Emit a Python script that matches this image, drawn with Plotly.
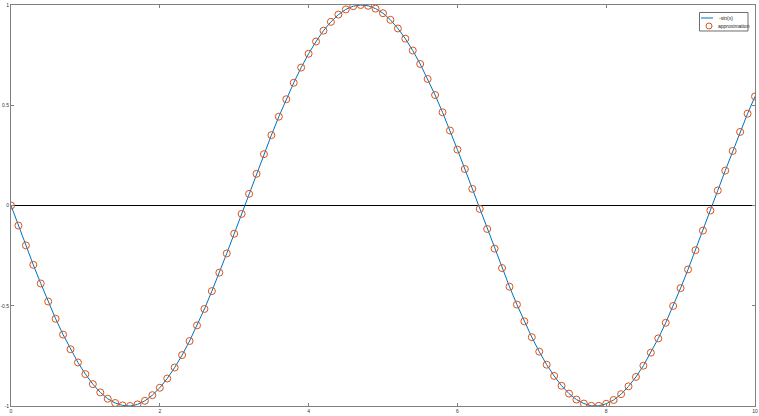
import plotly.graph_objects as go

# sample points, 0 to 10 in steps of 0.1
x_values = [
    0.0, 0.1, 0.2, 0.3, 0.4, 0.5, 0.6, 0.7, 0.8, 0.9,
    1.0, 1.1, 1.2, 1.3, 1.4, 1.5, 1.6, 1.7, 1.8, 1.9,
    2.0, 2.1, 2.2, 2.3, 2.4, 2.5, 2.6, 2.7, 2.8, 2.9,
    3.0, 3.1, 3.2, 3.3, 3.4, 3.5, 3.6, 3.7, 3.8, 3.9,
    4.0, 4.1, 4.2, 4.3, 4.4, 4.5, 4.6, 4.7, 4.8, 4.9,
    5.0, 5.1, 5.2, 5.3, 5.4, 5.5, 5.6, 5.7, 5.8, 5.9,
    6.0, 6.1, 6.2, 6.3, 6.4, 6.5, 6.6, 6.7, 6.8, 6.9,
    7.0, 7.1, 7.2, 7.3, 7.4, 7.5, 7.6, 7.7, 7.8, 7.9,
    8.0, 8.1, 8.2, 8.3, 8.4, 8.5, 8.6, 8.7, 8.8, 8.9,
    9.0, 9.1, 9.2, 9.3, 9.4, 9.5, 9.6, 9.7, 9.8, 9.9,
    10.0,
]

# -sin(x)
exact_values = [
    0.000, -0.100, -0.199, -0.296, -0.389, -0.479, -0.565, -0.644, -0.717, -0.783,
    -0.841, -0.891, -0.932, -0.964, -0.985, -0.997, -1.000, -0.992, -0.974, -0.946,
    -0.909, -0.863, -0.808, -0.746, -0.676, -0.598, -0.516, -0.427, -0.335, -0.239,
    -0.141, -0.042, 0.058, 0.158, 0.256, 0.351, 0.443, 0.530, 0.612, 0.688,
    0.757, 0.818, 0.872, 0.916, 0.952, 0.978, 0.994, 1.000, 0.996, 0.982,
    0.959, 0.926, 0.883, 0.832, 0.773, 0.706, 0.631, 0.551, 0.465, 0.374,
    0.279, 0.182, 0.083, -0.017, -0.117, -0.215, -0.312, -0.405, -0.494, -0.578,
    -0.657, -0.729, -0.794, -0.850, -0.899, -0.938, -0.968, -0.988, -0.999, -0.999,
    -0.989, -0.970, -0.941, -0.902, -0.855, -0.799, -0.734, -0.663, -0.585, -0.501,
    -0.412, -0.319, -0.223, -0.125, -0.025, 0.075, 0.174, 0.272, 0.367, 0.458,
    0.544,
]

# approximation markers sit on the same points
approx_values = list(exact_values)

x_ticks = [0, 2, 4, 6, 8, 10]
y_ticks = [-1, -0.5, 0, 0.5, 1]
y_tick_labels = ["-1", "-0.5", "0", "0.5", "1"]
legend_names = ["-sin(x)", "approximation"]

LINE_COLOR = '#0072BD'
MARKER_COLOR = '#D95319'
FONT = 'Liberation Sans'

fig = go.Figure()

fig.add_trace(go.Scatter(
    x=x_values, y=exact_values, mode='lines', name=legend_names[0],
    line=dict(color=LINE_COLOR, width=1)
))
fig.add_trace(go.Scatter(
    x=x_values, y=approx_values, mode='markers', name=legend_names[1],
    marker=dict(symbol='circle-open', size=7, color=MARKER_COLOR, line=dict(width=1))
))

axis_style = dict(
    showline=True, linecolor='#808080', linewidth=1, mirror='ticks',
    ticks='inside', ticklen=3, tickcolor='#808080', automargin=False,
    showgrid=False, tickfont=dict(family=FONT, size=5, color='#333333'),
)

# plotly's own legend can't get this compact, so draw a small one by hand
legend_shapes = [
    dict(type='rect', xref='paper', yref='paper', x0=0.9254, x1=0.9906, y0=0.9352, y1=0.9813,
         line=dict(color='#6e6e6e', width=1), fillcolor='white', layer='above'),
    dict(type='line', xref='paper', yref='paper', x0=0.9274, x1=0.9435, y0=0.9676, y1=0.9676,
         line=dict(color=LINE_COLOR, width=1), layer='above'),
    dict(type='circle', xref='paper', yref='paper', xsizemode='pixel', ysizemode='pixel',
         xanchor=0.9382, yanchor=0.9476, x0=-3, x1=3, y0=-3, y1=3,
         line=dict(color=MARKER_COLOR, width=1), layer='above'),
]
legend_labels = [
    dict(x=0.9503, y=0.9676, text=legend_names[0]),
    dict(x=0.9490, y=0.9476, text=legend_names[1]),
]
legend_annotations = [
    dict(xref='paper', yref='paper', xanchor='left', yanchor='middle', showarrow=False,
         borderpad=0, font=dict(family=FONT, size=5, color='#222222'), **lab)
    for lab in legend_labels
]

fig.update_layout(
    template='none',
    width=759, height=416,
    margin=dict(l=11, r=4, t=5, b=10, autoexpand=False),
    paper_bgcolor='white', plot_bgcolor='white',
    showlegend=False,
    shapes=legend_shapes,
    annotations=legend_annotations,
    xaxis=dict(range=[0, 10], tickvals=x_ticks, zeroline=False, **axis_style),
    yaxis=dict(range=[-1, 1], tickvals=y_ticks, ticktext=y_tick_labels,
               zeroline=True, zerolinecolor='black', zerolinewidth=1, **axis_style),
)

# drop the page's default body margin so the figure sits at the window's corner
fig.write_html("out.html", config={'displayModeBar': False},
               post_script="document.body.style.margin='0';")
